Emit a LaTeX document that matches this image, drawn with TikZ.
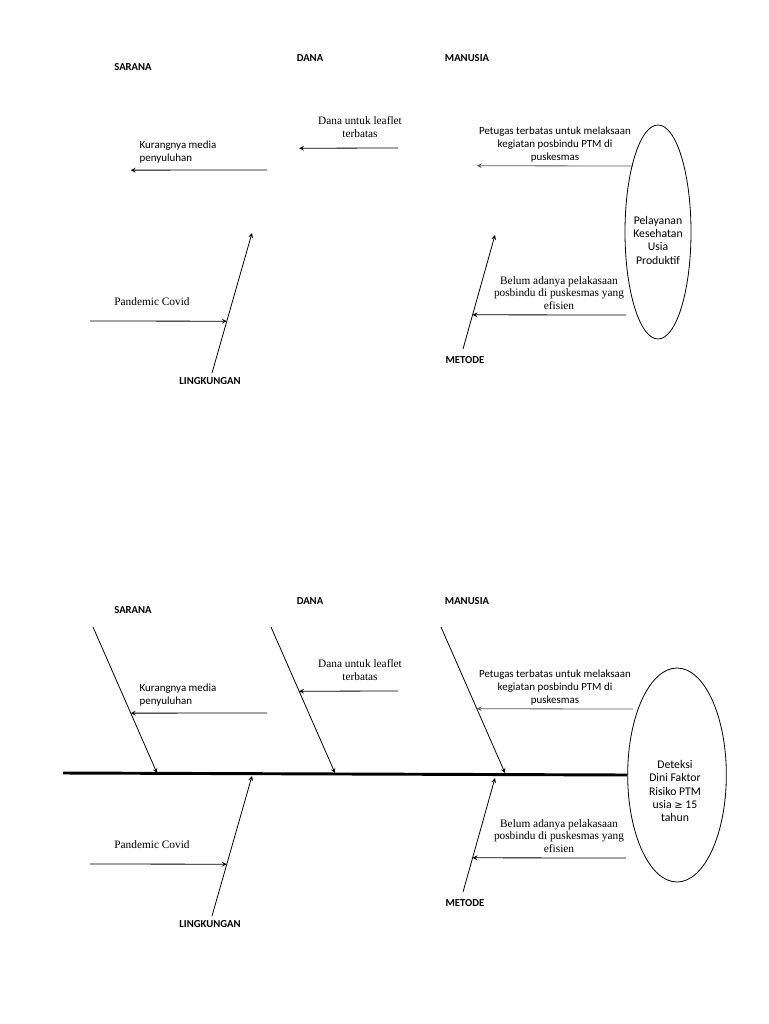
\documentclass[tikz,border=0pt]{standalone}
\usepackage{fontspec}
\setmainfont{Liberation Serif}
\setsansfont{Carlito}
\newfontfamily\symfont{DejaVu Sans}
\usetikzlibrary{shapes.geometric,calc}

\begin{document}
\begin{tikzpicture}[x=0.75pt,y=-0.75pt,>=stealth,
    bone/.style={->,line width=0.6pt},
    cause/.style={->,line width=0.6pt},
    head/.style={font=\sffamily\bfseries\fontsize{8}{9}\selectfont},
    sanstxt/.style={font=\sffamily\fontsize{8.2}{9.75}\selectfont,align=center},
    seriftxt/.style={font=\fontsize{8.5}{9.6}\selectfont,align=center},
    effect/.style={draw,ellipse,line width=0.6pt,inner sep=0pt}]
  \useasboundingbox (0,0) rectangle (768,1024);

  % both diagrams share the causes, the lower one is shifted down
  \foreach \d/\off in {a/0,b/543} {
    \begin{scope}[shift={(0,\off)}]
      \node[head] (sarana\d) at (133,67) {SARANA};
      \node[head] (dana\d) at (310,58) {DANA};
      \node[head] (manusia\d) at (467,58) {MANUSIA};
      \node[head] (metode\d) at (465,360) {METODE};
      \node[head] (lingkungan\d) at (210,381) {LINGKUNGAN};

      \coordinate (stop\d) at (93,84);   \coordinate (sbot\d) at (157,230);
      \coordinate (dtop\d) at (271,84);  \coordinate (dbot\d) at (335,230);
      \coordinate (mtop\d) at (441,84);  \coordinate (mbot\d) at (505,230);
      \coordinate (ttop\d) at (495,235); \coordinate (tbot\d) at (463,349);
      \coordinate (ltop\d) at (252,233); \coordinate (lbot\d) at (212,373);

      \draw[bone] (tbot\d) -- (ttop\d);
      \draw[bone] (lbot\d) -- (ltop\d);

      \node[seriftxt] (leaflet\d) at (360,127) {Dana untuk leaflet\\terbatas};
      \coordinate (leafletst\d) at (398,148);
      \draw[cause] (leafletst\d) -- ($(dtop\d)!0.44!(dbot\d)$);

      \node[sanstxt,anchor=west,align=left] (media\d) at (135,152) {Kurangnya media\\penyuluhan};
      \coordinate (mediast\d) at (267,170);
      \draw[cause] (mediast\d) -- ($(stop\d)!0.59!(sbot\d)$);

      \node[sanstxt] (petugas\d) at (555,145) {Petugas terbatas untuk melaksaan\\kegiatan posbindu PTM di\\puskesmas};
      \coordinate (petugasst\d) at (633,166);
      \draw[cause,black!65] (petugasst\d) -- ($(mtop\d)!0.56!(mbot\d)$);

      \node[seriftxt] (belum\d) at (559,293) {Belum adanya pelakasaan\\posbindu di puskesmas yang\\efisien};
      \coordinate (belumst\d) at (626,315);
      \draw[cause] (belumst\d) -- ($(tbot\d)!0.30!(ttop\d)$);

      \node[seriftxt] (covid\d) at (152,302) {Pandemic Covid};
      \coordinate (covidst\d) at (90,321);
      \draw[cause] (covidst\d) -- ($(lbot\d)!0.37!(ltop\d)$);
    \end{scope}
  }

  % upper diagram
  \node[effect,minimum width=49.5pt,minimum height=160.5pt] (usia) at (658,232) {};
  \node[sanstxt,font=\sffamily\fontsize{8.8}{10}\selectfont] (usiatxt) at (658,240)
    {Pelayanan\\Kesehatan\\Usia\\Produktif};

  % lower diagram
  \node[effect,minimum width=74pt,minimum height=160.5pt] (ptm) at (677,775) {};
  \node[sanstxt,font=\sffamily\fontsize{8.8}{10}\selectfont] (ptmtxt) at (675,791)
    {Deteksi\\Dini Faktor\\Risiko PTM\\usia {\symfont\fontsize{7.5}{10}\selectfont ≥} 15\\tahun};
  \coordinate (tail) at (63,773);
  \draw[line width=2.2pt] (tail) -- (ptm.west);
  \draw[bone] (stopb) -- (sbotb);
  \draw[bone] (dtopb) -- (dbotb);
  \draw[bone] (mtopb) -- (mbotb);
\end{tikzpicture}
\end{document}
